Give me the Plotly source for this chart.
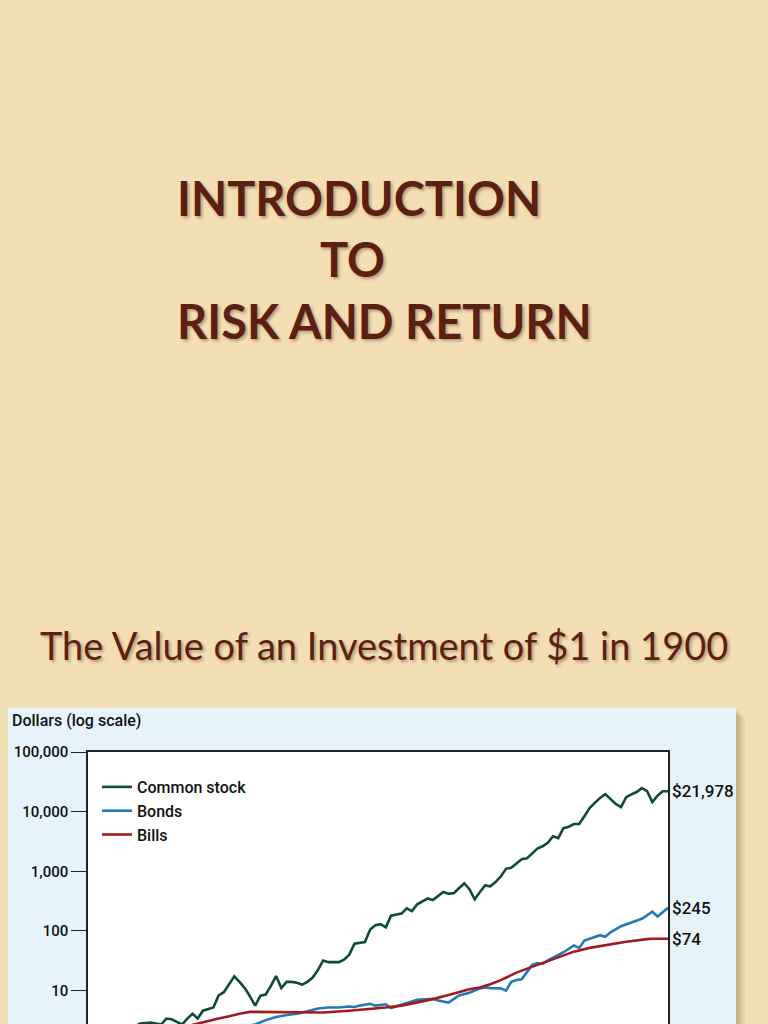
import math
import plotly.graph_objects as go

# slide text
title_lines = ["INTRODUCTION", "TO", "RISK AND RETURN"]
subtitle = "The Value of an Investment of $1 in 1900"
y_title = "Dollars (log scale)"

# y axis ticks
tick_vals = [10, 100, 1000, 10000, 100000]
tick_text = ["10", "100", "1,000", "10,000", "100,000"]

# common stock
stock_years = [1900, 1910, 1912, 1913, 1914, 1915, 1916, 1917, 1918, 1919, 1920, 1921, 1922, 1924,
               1925, 1926, 1928, 1929, 1930, 1931, 1932, 1933, 1934, 1935, 1936, 1937, 1938, 1939,
               1940, 1941, 1942, 1943, 1944, 1945, 1946, 1947, 1948, 1949, 1950, 1951, 1952, 1953,
               1954, 1955, 1956, 1957, 1958, 1959, 1960, 1961, 1962, 1963, 1964, 1965, 1966, 1967,
               1968, 1969, 1970, 1971, 1972, 1973, 1974, 1975, 1976, 1977, 1978, 1979, 1980, 1981,
               1982, 1983, 1984, 1985, 1986, 1987, 1988, 1989, 1990, 1991, 1992, 1993, 1994, 1995,
               1996, 1997, 1998, 1999, 2000, 2001, 2002, 2003, 2004, 2005, 2006, 2007, 2008, 2009,
               2010, 2011]
stock_vals = [1.0, 2.8, 2.9, 2.8, 2.7, 3.4, 3.3, 3.0, 2.7, 3.4, 4.1, 3.4, 4.6, 5.2,
              8.3, 9.4, 17.4, 14, 11, 8, 5.6, 8.2, 8.6, 12, 17.5, 11, 14, 14,
              13.5, 12.6, 14, 16.5, 22, 32, 30, 30, 30, 33, 40, 61, 63, 65,
              106, 125, 130, 115, 180, 190, 195, 240, 215, 280, 310, 350, 330, 390,
              450, 420, 430, 520, 630, 500, 340, 450, 580, 560, 660, 820, 1100, 1150,
              1350, 1600, 1650, 2000, 2400, 2630, 3000, 3870, 3590, 5290, 5600, 6200, 6200, 8400,
              11450, 14000, 17000, 19700, 16200, 13500, 11900, 17500, 19500, 21300, 24800, 22000, 14500, 18500,
              22000, 21978]

# long-term government bonds
bond_years = [1900, 1932, 1934, 1936, 1938, 1940, 1942, 1944, 1946, 1948, 1950, 1951, 1952, 1954,
              1955, 1957, 1958, 1960, 1963, 1966, 1967, 1969, 1971, 1973, 1975, 1976, 1977, 1979,
              1980, 1981, 1982, 1983, 1985, 1986, 1987, 1988, 1991, 1993, 1994, 1995, 1997, 1998,
              1999, 2000, 2002, 2004, 2006, 2008, 2009, 2011]
bond_vals = [1.0, 2.7, 3.2, 3.6, 3.9, 4.1, 4.5, 5.0, 5.2, 5.2, 5.4, 5.3, 5.6, 6.0,
             5.6, 5.9, 5.1, 5.8, 7.0, 7.3, 6.8, 6.3, 8.3, 9.2, 10.9, 11.3, 11.0, 10.9,
             10.0, 14, 15, 15.5, 27, 29, 28, 32, 44, 57, 52, 69, 78, 85,
             80, 95, 120, 140, 160, 210, 175, 245]

# treasury bills
bill_years = [1900, 1920, 1923, 1925, 1927, 1929, 1931, 1935, 1940, 1945, 1950, 1954, 1957, 1960,
              1963, 1966, 1969, 1971, 1973, 1975, 1977, 1979, 1982, 1986, 1990, 1993, 1996, 1999,
              2003, 2007, 2008, 2011]
bill_vals = [1.0, 2.7, 3.1, 3.4, 3.7, 4.1, 4.4, 4.4, 4.4, 4.3, 4.6, 4.9, 5.2, 5.6,
             6.3, 7.2, 8.4, 9.5, 10.5, 11.3, 12.8, 15, 20, 27, 36, 45, 52, 58,
             66, 73, 74, 74]

BROWN = "#5b1f14"
BG = "#f3dfb6"
PANEL = "#e7f3fb"
INK = "#111111"
NARROW = "Roboto, Liberation Sans Narrow, DejaVu Sans Condensed, sans-serif"
SERIF_T = "Lato, Open Sans, sans-serif"

# plot area in page pixels
L, R, T, B = 88, 668, 752, 1024


def px_x(x):
    return (x - L) / (R - L)


def px_y(y):
    return (B - y) / (B - T)


fig = go.Figure()
series = [("Common stock", stock_years, stock_vals, "#0f4a3b"),
          ("Bonds", bond_years, bond_vals, "#2379b8"),
          ("Bills", bill_years, bill_vals, "#a01b1b")]
for name, xs, ys, col in series:
    fig.add_trace(go.Scatter(x=xs, y=ys, mode="lines", name=name,
                             line=dict(color=col, width=2.6)))

# slide titles
shadow = "2px 2px 3px rgba(60,30,10,0.35)"
title_pos = [(175, 198), (318, 259), (175, 321)]
for txt, (tx, ty) in zip(title_lines, title_pos):
    fig.add_annotation(text="<b>" + txt + "</b>", x=px_x(tx), y=px_y(ty),
                       xref="paper", yref="paper", xanchor="left", yanchor="middle", showarrow=False,
                       font=dict(family=SERIF_T, size=47, color=BROWN, shadow=shadow))
fig.add_annotation(text=subtitle, x=px_x(384), y=px_y(645),
                   xref="paper", yref="paper", xanchor="center", yanchor="middle", showarrow=False,
                   font=dict(family=SERIF_T, size=38, color=BROWN, shadow=shadow))

# chart panel with a soft shadow, then the white plot area on top of it
for off, alpha in [(9, 0.06), (7, 0.08), (5, 0.10), (3, 0.12)]:
    fig.add_shape(type="rect", xref="paper", yref="paper", layer="below",
                  x0=px_x(8 + off), x1=px_x(736 + off), y0=px_y(1030), y1=px_y(708 + off),
                  fillcolor="rgba(110,85,45,%s)" % alpha, line_width=0)
fig.add_shape(type="rect", xref="paper", yref="paper", layer="below",
              x0=px_x(8), x1=px_x(736), y0=px_y(1030), y1=px_y(708),
              fillcolor=PANEL, line_width=0)
fig.add_shape(type="rect", xref="paper", yref="paper", layer="below",
              x0=0, x1=1, y0=0, y1=1, fillcolor="white", line_width=0)

fig.add_annotation(text=y_title, x=px_x(10), y=px_y(720),
                   xref="paper", yref="paper", xanchor="left", yanchor="middle", showarrow=False,
                   font=dict(family=NARROW, size=16, color=INK, weight=500))

# end values next to the right border
for name, xs, ys, col in series:
    fig.add_annotation(text="${:,.0f}".format(ys[-1]), x=xs[-1], y=math.log10(ys[-1]),
                       xanchor="left", yanchor="middle", xshift=2, showarrow=False,
                       font=dict(family=NARROW, size=17, color=INK, weight=500))

fig.update_xaxes(range=[1900, 2011], side="top", showline=True, linecolor="#222", linewidth=1.5,
                 showgrid=False, zeroline=False, ticks="", showticklabels=False)
fig.update_yaxes(type="log", range=[0.44, 5], tickvals=tick_vals, ticktext=tick_text,
                 showline=True, mirror=True, linecolor="#222", linewidth=1.5,
                 ticks="outside", ticklen=15, tickwidth=1.3, tickcolor="#222",
                 showgrid=False, zeroline=False,
                 tickfont=dict(family=NARROW, size=15, color=INK, weight=500))

fig.update_layout(
    width=768, height=1024,
    margin=dict(l=L, r=768 - R, t=T, b=0),
    paper_bgcolor=BG, plot_bgcolor="rgba(0,0,0,0)",
    showlegend=True,
    legend=dict(x=px_x(97), y=px_y(770), xanchor="left", yanchor="top",
                bgcolor="rgba(0,0,0,0)", itemwidth=30, tracegroupgap=0,
                font=dict(family=NARROW, size=16, color=INK, weight=500)),
)

fig.write_html("out.html", config={"displayModeBar": False},
               post_script="document.body.style.margin='0px';document.body.style.overflow='hidden';")
